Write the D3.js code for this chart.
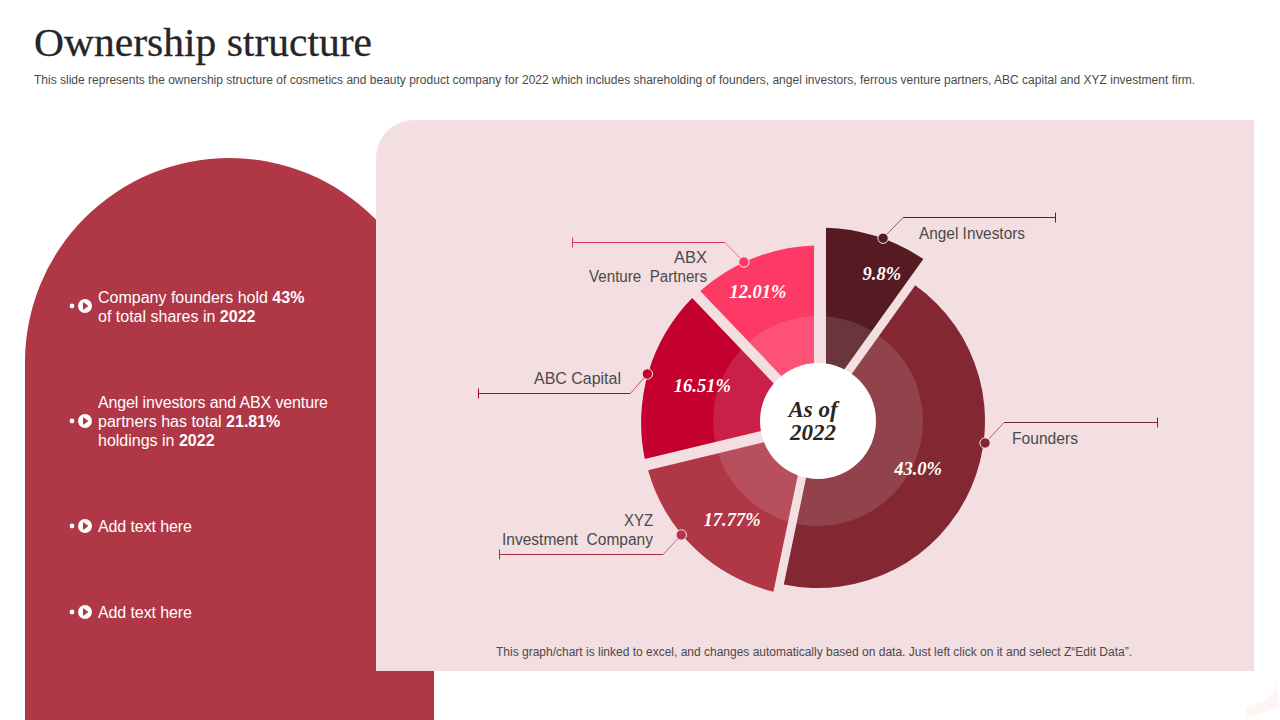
<!DOCTYPE html>
<html><head><meta charset="utf-8">
<script src="https://cdn.jsdelivr.net/npm/d3@7/dist/d3.min.js"></script>
<style>html,body{margin:0;padding:0;background:#fff;overflow:hidden}svg{display:block}</style>
</head><body><svg id="c" width="1280" height="720"></svg>
<script>
const categories = ["Angel Investors","Founders","XYZ Investment Company","ABC Capital","ABX Venture Partners"];
const values = [9.8,43.0,17.77,16.51,12.01];
const valueLabels = ["9.8%","43.0%","17.77%","16.51%","12.01%"];
const colors = ["#561b22","#832833","#af3746","#c3002e","#fd3a66"];
const lineColors = ["#5e1f28","#7a2430","#a82f42","#a00c34","#d83a62"];
const labelLines = [["Angel Investors"],["Founders"],["XYZ","Investment  Company"],["ABC Capital"],["ABX","Venture  Partners"]];

// layout of the exploded slices: each slice has its own radius, centre offset and gap
const outerRadii = [186,167,173,178.5,180];
const sliceOffsets = [[2,-7.3],[0,0],[-3.3,2.7],[1.6,1.9],[2,4.3]];
const slicePad = [0.06,0,0.06,0.06,0.06];

const FONT_SANS = "'Liberation Sans',Arial,sans-serif";
const FONT_SERIF = "'Liberation Serif',Georgia,serif";
const svg = d3.select("#c");
const cx = 818, cy = 421, rIn = 58, rRing = 105;

// background shapes
svg.append("path").attr("fill","#af3746")
  .attr("d","M25,720 L25,362 A204.5,204 0 0 1 434,362 L434,720 Z");
svg.append("path").attr("fill","#f3dee1")
  .attr("d","M376,671 L376,158 A38,38 0 0 1 414,120 L1254,120 L1254,671 Z");
svg.append("path").attr("fill","#fdf0f0").attr("fill-opacity",0.7)
  .attr("d","M1245,708 C1255,702 1265,704 1270,697 L1277,684 L1279,706 C1268,712 1256,716 1248,718 Z");

// title block
svg.append("text").attr("x",34).attr("y",56).attr("font-family",FONT_SERIF)
  .attr("font-size",40).attr("fill","#262626").attr("stroke","#262626").attr("stroke-width",0.3)
  .attr("textLength",338).attr("lengthAdjust","spacingAndGlyphs")
  .text("Ownership structure");
svg.append("text").attr("x",34).attr("y",84).attr("font-family",FONT_SANS)
  .attr("font-size",12).attr("fill","#4a4a4a").attr("textLength",1161).attr("lengthAdjust","spacing")
  .text("This slide represents the ownership structure of cosmetics and beauty product company for 2022 which includes shareholding of founders, angel investors, ferrous venture partners, ABC capital and XYZ  investment firm.");

// left bullets
const bullets = [
  {y:306, dy:1, lines:[[["Company founders hold ",0],["43%",1]],[["of total shares in ",0],["2022",1]]]},
  {y:421, dy:0, lines:[[["Angel investors and ABX venture",0]],[["partners has total ",0],["21.81%",1]],[["holdings in ",0],["2022",1]]], firstWidth:230},
  {y:526, dy:0, lines:[[["Add text here",0]]], firstWidth:94},
  {y:612, dy:0, lines:[[["Add text here",0]]], firstWidth:94}
];
bullets.forEach(b=>{
  const g = svg.append("g");
  g.append("circle").attr("cx",72).attr("cy",b.y).attr("r",2.4).attr("fill","#fff");
  g.append("circle").attr("cx",85).attr("cy",b.y).attr("r",7).attr("fill","#fff");
  g.append("path").attr("fill","#af3746").attr("d",`M83,${b.y-4} L88.5,${b.y} L83,${b.y+4} Z`);
  const n = b.lines.length, lh = 19;
  b.lines.forEach((ln,i)=>{
    const t = g.append("text").attr("x",98).attr("y",b.y+b.dy+(i-(n-1)/2)*lh+5.5)
      .attr("font-family",FONT_SANS).attr("font-size",16).attr("fill","#fff").attr("xml:space","preserve");
    if(i===0 && b.firstWidth) t.attr("textLength",b.firstWidth).attr("lengthAdjust","spacing");
    ln.forEach(([s,bold])=>t.append("tspan").attr("font-weight",bold?700:400).text(s));
  });
});

// pie
const pie = d3.pie().value(d=>d).sort(null);
const arcs = pie(values);
const arc = d3.arc().padRadius(200);
const slicePath = (d,i)=>arc({...d,padAngle:slicePad[i],innerRadius:40,outerRadius:outerRadii[i]});
const sliceShift = (d,i)=>`translate(${sliceOffsets[i][0]},${sliceOffsets[i][1]})`;
const chart = svg.append("g").attr("transform",`translate(${cx},${cy})`);
chart.selectAll("path.slice").data(arcs).join("path").attr("class","slice")
  .attr("fill",(d,i)=>colors[i]).attr("transform",sliceShift).attr("d",slicePath);
// translucent ring, only visible over the slices
chart.append("clipPath").attr("id","sliceClip").selectAll("path").data(arcs).join("path")
  .attr("transform",sliceShift).attr("d",slicePath);
chart.append("circle").attr("r",rRing).attr("fill","#fff").attr("fill-opacity",0.12)
  .attr("clip-path","url(#sliceClip)");
chart.append("circle").attr("r",rIn).attr("fill","#fff");

const centerText = chart.append("g").attr("font-family",FONT_SERIF).attr("font-weight",700)
  .attr("font-style","italic").attr("font-size",23).attr("fill","#262626").attr("text-anchor","middle");
centerText.append("text").attr("x",-5).attr("y",-4).text("As of");
centerText.append("text").attr("x",-5).attr("y",19).text("2022");

// value labels (polar placement around the slice)
const labelPolar = [[23.5,160],[115.6,111],[221,131],[287,121],[335,142]];
const polar = (deg,r)=>{const a=deg*Math.PI/180;return [r*Math.sin(a),-r*Math.cos(a)];};
chart.selectAll("text.val").data(arcs).join("text").attr("class","val")
  .attr("text-anchor","middle").attr("font-family",FONT_SERIF).attr("font-weight",700).attr("font-style","italic")
  .attr("font-size",18.5).attr("fill","#fff")
  .attr("x",(d,i)=>polar(...labelPolar[i])[0]).attr("y",(d,i)=>polar(...labelPolar[i])[1]+6)
  .text((d,i)=>valueLabels[i]);

// leaders
const dotAngles = [19.6,97.5,230.2,285.4,335];
const dotRadii = [194,168.5,178,177,175.4];
const leaderDx = [20,19,-18,-17,-19], leaderDy = [-21,-21,19,19,-20], leaderLen = [152,153,-164,-152,-153];
const textAnchorX = [919,1012,653,621,707];
const textBaseY = [239,444,526,384,263];
const lineWidths = [[106],[66],[29,151],[87],[33,118]];
arcs.forEach((d,i)=>{
  const [px,py] = polar(dotAngles[i],dotRadii[i]);
  const x0=cx+px,y0=cy+py,x1=x0+leaderDx[i],y1=Math.round(y0+leaderDy[i])+0.5,x2=Math.round(x1+leaderLen[i])+0.5;
  const c = lineColors[i];
  const g = svg.append("g");
  g.append("path").attr("fill","none").attr("stroke",c).attr("stroke-width",1).attr("stroke-opacity",0.65)
    .attr("d",`M${x0},${y0} L${x1},${y1}`);
  g.append("path").attr("fill","none").attr("stroke",c).attr("stroke-width",1)
    .attr("d",`M${x1},${y1} L${x2},${y1} M${x2},${y1-5} L${x2},${y1+5}`);
  g.append("circle").attr("cx",x0).attr("cy",y0).attr("r",5.2).attr("fill",colors[i]).attr("stroke","#f7e6e8").attr("stroke-width",1);
  labelLines[i].forEach((s,j)=>{
    const x = textAnchorX[i], w = lineWidths[i][j];
    g.append("text").attr("x",i<2?x:x-w).attr("y",textBaseY[i]+j*19)
      .attr("font-family",FONT_SANS).attr("font-size",16)
      .attr("fill","#4a4a4a").attr("xml:space","preserve")
      .attr("textLength",w).attr("lengthAdjust","spacingAndGlyphs").text(s);
  });
});

svg.append("text").attr("x",814).attr("y",656).attr("text-anchor","middle").attr("font-family",FONT_SANS)
  .attr("font-size",12).attr("fill","#4a4a4a").attr("textLength",636).attr("lengthAdjust","spacing")
  .text("This graph/chart is linked to excel,  and changes automatically based on data. Just left click on it and select Z“Edit Data”.");
</script></body></html>
